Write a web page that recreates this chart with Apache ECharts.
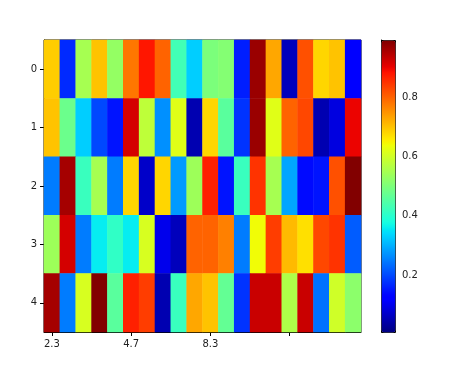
<!DOCTYPE html>
<html>
<head>
<meta charset="utf-8">
<script src="https://cdn.jsdelivr.net/npm/echarts@6/dist/echarts.min.js"></script>
<style>
  html, body { margin: 0; padding: 0; background: #fff; }
  #main { width: 474px; height: 376px; }
</style>
</head>
<body>
<div id="main"></div>
<script>
// heatmap values, one list per row (row 0 drawn at top)
var row0 = [0.69, 0.17, 0.55, 0.70, 0.53, 0.78, 0.88, 0.80, 0.43, 0.33, 0.50, 0.51, 0.16, 0.97, 0.73, 0.06, 0.82, 0.68, 0.70, 0.12];
var row1 = [0.70, 0.48, 0.33, 0.20, 0.15, 0.92, 0.58, 0.27, 0.62, 0.05, 0.68, 0.46, 0.18, 0.97, 0.62, 0.80, 0.83, 0.05, 0.09, 0.90];
var row2 = [0.25, 0.96, 0.42, 0.55, 0.25, 0.68, 0.07, 0.68, 0.28, 0.54, 0.87, 0.15, 0.42, 0.85, 0.55, 0.29, 0.14, 0.15, 0.82, 0.99];
var row3 = [0.54, 0.92, 0.25, 0.36, 0.41, 0.36, 0.61, 0.10, 0.06, 0.80, 0.80, 0.77, 0.25, 0.64, 0.84, 0.71, 0.67, 0.83, 0.85, 0.22];
var row4 = [0.96, 0.25, 0.61, 0.99, 0.46, 0.87, 0.84, 0.05, 0.42, 0.73, 0.70, 0.47, 0.18, 0.93, 0.93, 0.56, 0.93, 0.24, 0.60, 0.52];
var rows = [row0, row1, row2, row3, row4];

var rowLabels = ['0', '1', '2', '3', '4'];
// x tick labels, shown every 5th column
var xTickLabels = { 0: '2.3', 5: '4.7', 10: '8.3', 15: '' };
var colorTicks = [0.2, 0.4, 0.6, 0.8];
var colorMin = 0.008;
var colorMax = 0.992;

// matplotlib "jet" colormap
function interp(v, pts) {
  for (var i = 1; i < pts.length; i++) {
    if (v <= pts[i][0]) {
      var t = (v - pts[i - 1][0]) / (pts[i][0] - pts[i - 1][0]);
      return pts[i - 1][1] + t * (pts[i][1] - pts[i - 1][1]);
    }
  }
  return pts[pts.length - 1][1];
}
function jet(v) {
  var r = interp(v, [[0, 0], [0.35, 0], [0.66, 1], [0.89, 1], [1, 0.5]]);
  var g = interp(v, [[0, 0], [0.125, 0], [0.375, 1], [0.64, 1], [0.91, 0], [1, 0]]);
  var b = interp(v, [[0, 0.5], [0.11, 1], [0.34, 1], [0.65, 0], [1, 0]]);
  return 'rgb(' + Math.round(r * 255) + ',' + Math.round(g * 255) + ',' + Math.round(b * 255) + ')';
}
var jetColors = [];
for (var k = 0; k <= 100; k++) jetColors.push(jet(k / 100));

var cols = [];
for (var c = 0; c < row0.length; c++) cols.push(String(c));

var data = [];
rows.forEach(function (row, y) {
  row.forEach(function (v, x) {
    data.push([x, y, v]);
  });
});

var font = 'DejaVu Sans';
var myChart = echarts.init(document.getElementById('main'));
var option = {
  animation: false,
  grid: [
    { left: 44, top: 40, width: 317, height: 292, show: true, borderColor: '#000', borderWidth: 1, backgroundColor: 'transparent' },
    { left: 381, top: 40, width: 14, height: 292 }
  ],
  xAxis: [
    {
      type: 'category', gridIndex: 0, data: cols,
      axisLine: { lineStyle: { color: '#000' } },
      axisTick: { show: true, interval: 4, alignWithLabel: true, length: 4, lineStyle: { color: '#000' } },
      axisLabel: {
        interval: 4, margin: 7, color: '#222', fontFamily: font, fontSize: 10,
        formatter: function (v, i) { return xTickLabels[i] !== undefined ? xTickLabels[i] : ''; }
      },
      splitLine: { show: false }
    },
    { type: 'value', gridIndex: 1, show: false, min: 0, max: 1 }
  ],
  yAxis: [
    {
      type: 'category', gridIndex: 0, data: rowLabels, inverse: true,
      axisLine: { lineStyle: { color: '#000' } },
      axisTick: { show: true, alignWithLabel: true, length: 4, lineStyle: { color: '#000' } },
      axisLabel: { margin: 7, color: '#222', fontFamily: font, fontSize: 10 },
      splitLine: { show: false }
    },
    {
      type: 'value', gridIndex: 1, position: 'right', min: colorMin, max: colorMax,
      axisLine: { show: true, lineStyle: { color: '#000' } },
      axisTick: { show: true, length: 4, customValues: colorTicks, lineStyle: { color: '#000' } },
      axisLabel: {
        margin: 7, color: '#222', fontFamily: font, fontSize: 10, customValues: colorTicks,
        formatter: function (v) { return v.toFixed(1); }
      },
      splitLine: { show: false }
    }
  ],
  visualMap: {
    type: 'continuous', min: colorMin, max: colorMax, seriesIndex: 0,
    calculable: false, left: 381, top: 40, itemWidth: 14, itemHeight: 292,
    padding: 0, borderColor: '#000', borderWidth: 1, text: null, showLabel: false,
    inRange: { color: jetColors }
  },
  series: [{
    type: 'heatmap', xAxisIndex: 0, yAxisIndex: 0, data: data,
    itemStyle: { borderWidth: 0 },
    emphasis: { disabled: true }
  }]
};
myChart.setOption(option);
</script>
</body>
</html>
